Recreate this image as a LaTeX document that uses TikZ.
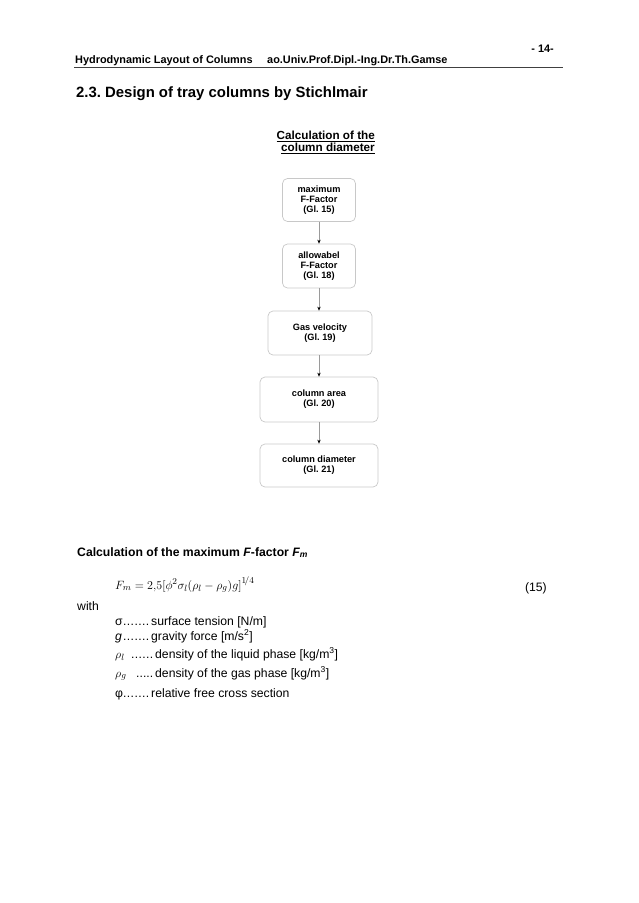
\documentclass[tikz,border=0pt]{standalone}
\usepackage{fontspec}
\setmainfont{Liberation Sans}
\usetikzlibrary{arrows.meta}
\definecolor{boxgray}{HTML}{C8C8C8}
\definecolor{linegray}{HTML}{9A9A9A}
\newcommand{\mydots}[2]{\makebox[#1pt][s]{#2}}
\begin{document}
\frenchspacing
\begin{tikzpicture}[x=1pt,y=-1pt,
  hdr/.style={font=\bfseries\fontsize{10.9}{13}\selectfont, inner sep=0pt, anchor=base west},
  body/.style={font=\fontsize{12.2}{14}\selectfont, inner sep=0pt, anchor=base west},
  bodyb/.style={font=\bfseries\fontsize{12.2}{14}\selectfont, inner sep=0pt, anchor=base west},
  flowbox/.style={draw=boxgray, line width=0.7pt, rounded corners=5pt, align=center,
     font=\bfseries\fontsize{9.2}{9.8}\selectfont, inner sep=0pt},
  flowarrow/.style={draw=linegray, line width=0.5pt, -{Stealth[length=4pt,width=3.4pt,black]}}
]
\useasboundingbox (0,0) rectangle (638,903);
% header
\node[hdr] (h1) at (75,63) {Hydrodynamic Layout of Columns};
\node[hdr] (h2) at (267,63) {ao.Univ.Prof.Dipl.-Ing.Dr.Th.Gamse};
\node[hdr, anchor=base east] (pg) at (554,52) {- 14-};
\coordinate (rl) at (74,67);
\coordinate (rr) at (563,67);
\draw[line width=1pt, black!75] (rl) -- (rr);
% title
\node[font=\bfseries\fontsize{14.9}{17}\selectfont, inner sep=0pt, anchor=base west] (title) at (76,97) {2.3. Design of tray columns by Stichlmair};
% flow title
\node[font=\bfseries\fontsize{11.7}{14}\selectfont, inner sep=0pt, anchor=base east] (ft1) at (375,139.5) {\underline{Calculation of the}};
\node[font=\bfseries\fontsize{11.7}{14}\selectfont, inner sep=0pt, anchor=base east] (ft2) at (375,151.5) {\underline{column diameter}};
% boxes
\node[flowbox, minimum width=73pt, minimum height=43pt] (b1) at (319,200) {maximum\\F-Factor\\(Gl. 15)};
\node[flowbox, minimum width=73pt, minimum height=44pt] (b2) at (319,266) {allowabel\\F-Factor\\(Gl. 18)};
\node[flowbox, minimum width=104pt, minimum height=44pt] (b3) at (320,333) {Gas velocity\\(Gl. 19)};
\node[flowbox, minimum width=118pt, minimum height=45pt] (b4) at (319,399.5) {column area\\(Gl. 20)};
\node[flowbox, minimum width=118pt, minimum height=43pt] (b5) at (319,465.5) {column diameter\\(Gl. 21)};
\draw[flowarrow] (b1.south) -- (b2.north);
\draw[flowarrow] (b2.south) -- (b3.north -| b2.south);
\draw[flowarrow] (b3.south -| b2.south) -- (b4.north);
\draw[flowarrow] (b4.south) -- (b5.north);
% section 2
\node[bodyb] (sec) at (77,556) {Calculation of the maximum \textit{F}-factor \textit{F\textsubscript{m}}};
\node[inner sep=0pt, anchor=base west, font=\fontsize{13}{15}\selectfont] (eq) at (115,589)
  {$F_m = 2{,}5\bigl[\phi^2\sigma_l\bigl(\rho_l-\rho_g\bigr)g\bigr]^{1\!/4}$};
\node[body, anchor=base east] (eqn) at (547,591) {(15)};
\node[body] (with) at (77,610) {with};
% list
\node[body] (s1) at (115,625) {σ};
\node[body] (d1) at (123,625) {\mydots{26}{.\hfill.\hfill.\hfill.\hfill.\hfill.\hfill.}};
\node[body] (t1) at (151,625) {surface tension [N/m]};
\node[body] (s2) at (115,640) {\textit{g}};
\node[body] (d2) at (123,640) {\mydots{26}{.\hfill.\hfill.\hfill.\hfill.\hfill.\hfill.}};
\node[body] (t2) at (151,640) {gravity force [m/s\textsuperscript{2}]};
\node[body, font=\fontsize{13}{15}\selectfont] (s3) at (115,658) {$\rho_l$};
\node[body] (d3) at (131,658) {\mydots{22}{.\hfill.\hfill.\hfill.\hfill.\hfill.}};
\node[body] (t3) at (155,658) {density of the liquid phase [kg/m\textsuperscript{3}]};
\node[body, font=\fontsize{13}{15}\selectfont] (s4) at (115,677) {$\rho_g$};
\node[body] (d4) at (136,677) {\mydots{17}{.\hfill.\hfill.\hfill.\hfill.}};
\node[body] (t4) at (155,677) {density of the gas phase [kg/m\textsuperscript{3}]};
\node[body] (s5) at (115,697) {φ};
\node[body] (d5) at (123,697) {\mydots{26}{.\hfill.\hfill.\hfill.\hfill.\hfill.\hfill.}};
\node[body] (t5) at (151,697) {relative free cross section};
\end{tikzpicture}
\end{document}
